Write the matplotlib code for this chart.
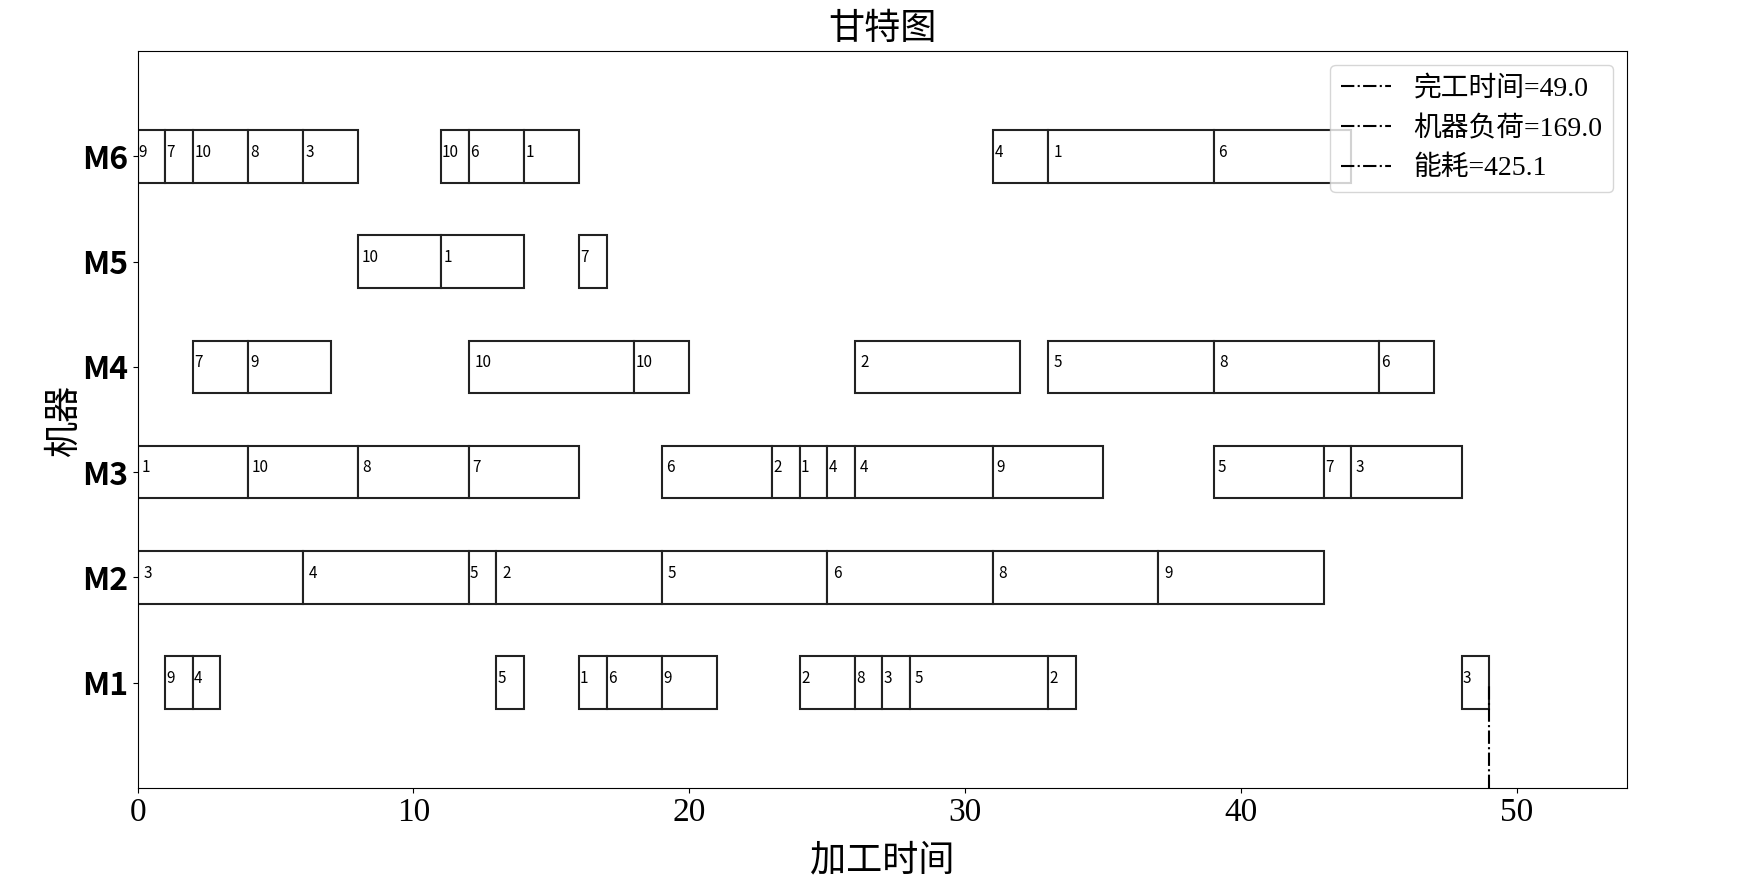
import matplotlib
matplotlib.use("Agg")
import matplotlib.pyplot as plt
from matplotlib.lines import Line2D

plt.rcParams['font.family'] = ['Noto Sans CJK SC', 'DejaVu Sans']
plt.rcParams['axes.unicode_minus'] = False

# ---- data ----
machine_labels = ['M1', 'M2', 'M3', 'M4', 'M5', 'M6']

# operations: machine index (1..6), start time, end time, job number
op_machine = [6, 6, 6, 6, 6, 6, 6, 6, 6, 6, 6,
              5, 5, 5,
              4, 4, 4, 4, 4, 4, 4, 4,
              3, 3, 3, 3, 3, 3, 3, 3, 3, 3, 3, 3, 3,
              2, 2, 2, 2, 2, 2, 2, 2,
              1, 1, 1, 1, 1, 1, 1, 1, 1, 1, 1, 1]
op_start = [0, 1, 2, 4, 6, 11, 12, 14, 31, 33, 39,
            8, 11, 16,
            2, 4, 12, 18, 26, 33, 39, 45,
            0, 4, 8, 12, 19, 23, 24, 25, 26, 31, 39, 43, 44,
            0, 6, 12, 13, 19, 25, 31, 37,
            1, 2, 13, 16, 17, 19, 24, 26, 27, 28, 33, 48]
op_end = [1, 2, 4, 6, 8, 12, 14, 16, 33, 39, 44,
          11, 14, 17,
          4, 7, 18, 20, 32, 39, 45, 47,
          4, 8, 12, 16, 23, 24, 25, 26, 31, 35, 43, 44, 48,
          6, 12, 13, 19, 25, 31, 37, 43,
          2, 3, 14, 17, 19, 21, 26, 27, 28, 33, 34, 49]
op_job = [9, 7, 10, 8, 3, 10, 6, 1, 4, 1, 6,
          10, 1, 7,
          7, 9, 10, 10, 2, 5, 8, 6,
          1, 10, 8, 7, 6, 2, 1, 4, 4, 9, 5, 7, 3,
          3, 4, 5, 2, 5, 6, 8, 9,
          9, 4, 5, 1, 6, 9, 2, 8, 3, 5, 2, 3]

makespan = 49.0
machine_load = 169.0
energy = 425.1

x_ticks = [0, 10, 20, 30, 40, 50]

# ---- plot ----
fig = plt.figure(figsize=(17.48, 8.89), dpi=100)
ax = fig.add_axes([0.0787, 0.1136, 0.8523, 0.829])

for m, s, e, j in zip(op_machine, op_start, op_end, op_job):
    d = e - s
    ax.barh(m, d, left=s, height=0.5, color='white', edgecolor='#222222', linewidth=1.5)
    ax.text(s + d * 0.035, m + 0.04, str(j), ha='left', va='center',
            fontsize=11, family=['Noto Sans CJK SC', 'DejaVu Sans'])

ax.vlines(makespan, 0, 1, colors='black', linestyles='-.', linewidth=1.5)

handles = [Line2D([], [], color='black', linestyle='-.', linewidth=1.5) for _ in range(3)]
labels = ['完工时间=%.1f' % makespan, '机器负荷=%.1f' % machine_load, '能耗=%.1f' % energy]
ax.legend(handles, labels, loc='upper right', handlelength=1.8,
          prop={'family': ['Liberation Serif', 'Noto Sans CJK SC'], 'size': 20})

ax.set_xlim(0, 54)
ax.set_ylim(0, 7)
ax.set_yticks(range(1, 7))
ax.set_yticklabels(machine_labels, fontsize=23, fontweight='bold')
ax.set_xticks(x_ticks)
ax.set_xticklabels([str(t) for t in x_ticks], fontsize=24, family='Liberation Serif')

ax.set_title('甘特图', fontsize=26, pad=9)
ax.set_xlabel('加工时间', fontsize=26, labelpad=10)
ax.set_ylabel('机器', fontsize=26, labelpad=0)

fig.savefig('out.png', dpi=100)
